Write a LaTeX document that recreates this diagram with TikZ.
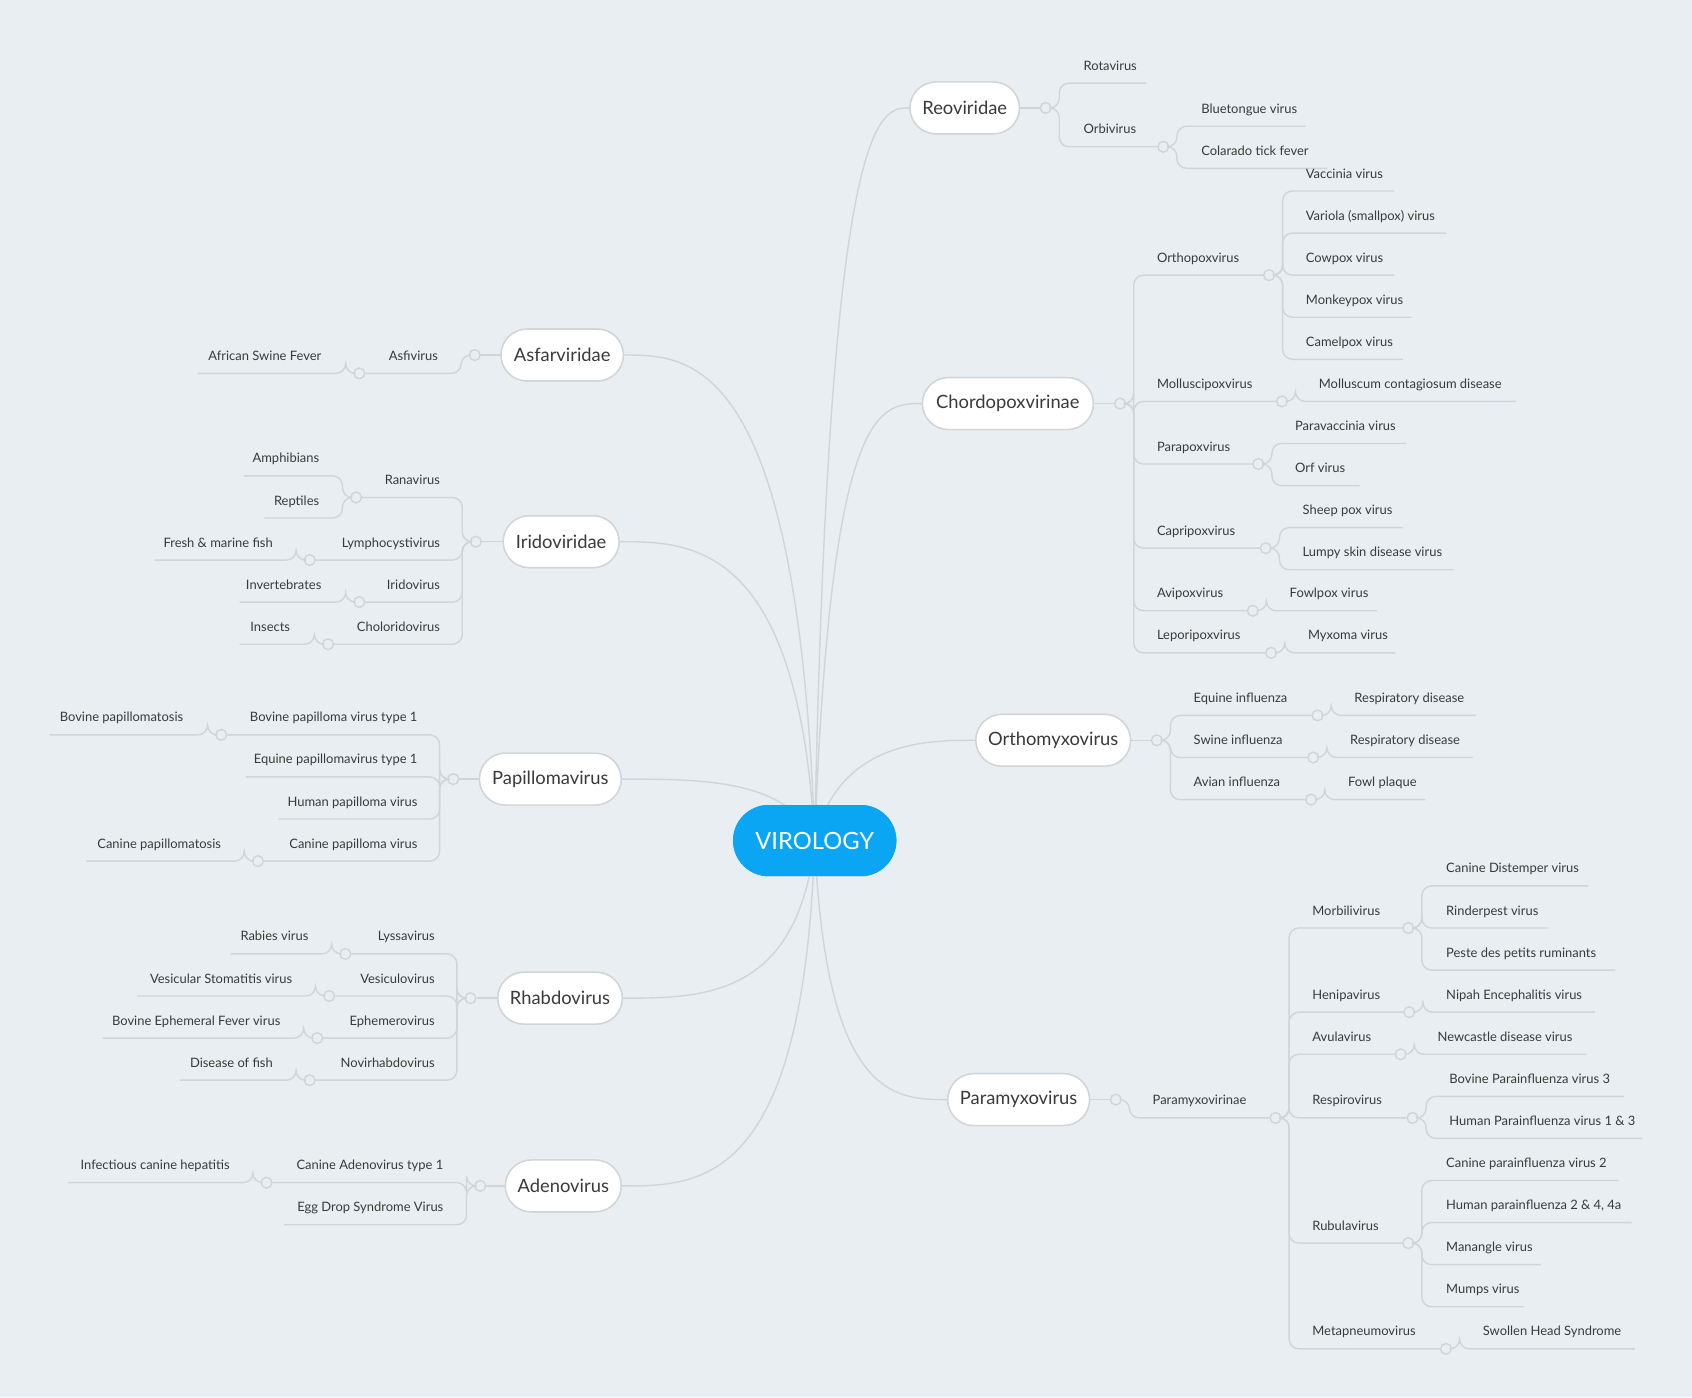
\documentclass[tikz,border=0pt]{standalone}
\usepackage{fontspec}
\setmainfont{Lato}
\usetikzlibrary{shapes.misc}
\definecolor{bg}{HTML}{E8EEF1}
\definecolor{lnc}{HTML}{CFD5D8}
\definecolor{txt}{HTML}{3A3A3A}
\definecolor{vir}{HTML}{0AA5F3}
\tikzset{
 ln/.style={draw=lnc,line width=1.3pt,rounded corners=9pt},
 mc/.style={draw=lnc,line width=1.3pt},
 lt/.style={inner sep=0pt,text=txt,font=\fontsize{12}{14}\selectfont},
 jc/.style={circle,draw=lnc,line width=1.3pt,fill=bg,minimum size=10pt,inner sep=0pt},
 mn/.style={rounded rectangle,draw=lnc,line width=1.3pt,fill=white,minimum height=48pt,text=txt,font=\fontsize{17}{20}\selectfont},
}
\newcommand\RL[6]{\draw[ln] (#1.east) -- ++(7,0) |- (#5); \node[lt,anchor=base west] (#2) at (#3,#4-12) {#6};}
\newcommand\LL[6]{\draw[ln] (#1.west) -- ++(-7,0) |- (#5); \node[lt,anchor=base east] (#2) at (#3,#4-12) {#6};}
\newcommand\JC[3]{\node[jc] (#1) at (#2,#3) {};}
\begin{document}
\begin{tikzpicture}[x=1pt,y=-1pt]
\fill[bg] (0,0) rectangle (1568,1295);
\useasboundingbox (0,0) rectangle (1568,1295);
% main nodes
\node[rounded rectangle,fill=vir,minimum width=158pt,minimum height=66pt,text=white,font=\fontsize{22}{26}\selectfont] (v) at (755,779) {VIROLOGY};
\node[mn,minimum width=108pt] (reo) at (894,100) {Reoviridae};
\node[mn,minimum width=165pt] (cho) at (934,374) {Chordopoxvirinae};
\node[mn,minimum width=150pt] (ort) at (976,686) {Orthomyxovirus};
\node[mn,minimum width=138pt] (par) at (944,1019) {Paramyxovirus};
\node[mn,minimum width=120pt] (asf) at (521,329) {Asfarviridae};
\node[mn,minimum width=114pt] (iri) at (520,502) {Iridoviridae};
\node[mn,minimum width=138pt] (pap) at (510,722) {Papillomavirus};
\node[mn,minimum width=122pt] (rha) at (519,925) {Rhabdovirus};
\node[mn,minimum width=114pt] (ade) at (522,1099) {Adenovirus};
\begin{scope}[on background layer/.style={}]
\end{scope}
% main curves (drawn, then central node redrawn on top)
\draw[mc] (v.center) .. controls (768,100) and (815,100) .. (reo.west);
\draw[mc] (v.center) .. controls (770,374) and (815,374) .. (cho.west);
\draw[mc] (v.center) .. controls (777,686) and (860,686) .. (ort.west);
\draw[mc] (v.center) .. controls (765,1019) and (830,1019) .. (par.west);
\draw[mc] (v.center) .. controls (740,329) and (640,329) .. (asf.east);
\draw[mc] (v.center) .. controls (740,502) and (640,502) .. (iri.east);
\draw[mc] (v.center) .. controls (730,722) and (650,722) .. (pap.east);
\draw[mc] (v.center) .. controls (740,925) and (650,925) .. (rha.east);
\draw[mc] (v.center) .. controls (745,1099) and (650,1099) .. (ade.east);
\node[rounded rectangle,fill=vir,minimum width=158pt,minimum height=66pt,text=white,font=\fontsize{22}{26}\selectfont] (v2) at (755,779) {VIROLOGY};
\foreach \n in {reo,cho,ort,par,asf,iri,pap,rha,ade}{\node[mn,fill=white,draw=none,inner sep=0pt] at (\n) {};}
\node[mn,minimum width=108pt] (reo) at (894,100) {Reoviridae};
\node[mn,minimum width=165pt] (cho) at (934,374) {Chordopoxvirinae};
\node[mn,minimum width=150pt] (ort) at (976,686) {Orthomyxovirus};
\node[mn,minimum width=138pt] (par) at (944,1019) {Paramyxovirus};
\node[mn,minimum width=120pt] (asf) at (521,329) {Asfarviridae};
\node[mn,minimum width=114pt] (iri) at (520,502) {Iridoviridae};
\node[mn,minimum width=138pt] (pap) at (510,722) {Papillomavirus};
\node[mn,minimum width=122pt] (rha) at (519,925) {Rhabdovirus};
\node[mn,minimum width=114pt] (ade) at (522,1099) {Adenovirus};
% junction circles
\JC{reoC}{969}{100}\JC{orbC}{1078}{136}
\JC{choC}{1038}{374}\JC{ortpC}{1176}{255}\JC{molC}{1188}{372}\JC{parpC}{1166}{430}\JC{capC}{1173}{508}\JC{aviC}{1161}{566}\JC{lepC}{1178}{605}
\JC{ortC}{1072}{686}\JC{eqC}{1221}{663}\JC{swC}{1217}{702}\JC{avC}{1215}{741}
\JC{parC}{1034}{1019}\JC{pviC}{1182}{1036}\JC{morC}{1305}{860}\JC{henC}{1306}{938}\JC{avuC}{1298}{977}\JC{resC}{1309}{1036}\JC{rubC}{1305}{1152}\JC{metC}{1340}{1250}
\JC{asfC}{440}{329}\JC{asfiC}{333}{346}
\JC{iriC}{441}{502}\JC{ranC}{330}{461}\JC{lymC}{287}{519}\JC{iridC}{333}{558}\JC{chlC}{304}{597}
\JC{papC}{420}{722}\JC{bpvC}{205}{681}\JC{cpvC}{239}{798}
\JC{rhaC}{436}{925}\JC{lysC}{320}{884}\JC{vesC}{305}{923}\JC{ephC}{294}{962}\JC{novC}{287}{1001}
\JC{adeC}{445}{1099}\JC{cadC}{247}{1096}
\foreach \a/\b in {reo/reoC,cho/choC,ort/ortC,par/parC}{\draw[mc] (\a.east) -- (\b.west);}
\foreach \a/\b in {asf/asfC,iri/iriC,pap/papC,rha/rhaC,ade/adeC}{\draw[mc] (\a.west) -- (\b.east);}
% Reoviridae
\RL{reoC}{rota}{1004}{77}{1062,77}{Rotavirus}
\RL{reoC}{orb}{1004}{136}{orbC.west}{Orbivirus}
\RL{orbC}{blu}{1113}{117}{1210,117}{Bluetongue virus}
\RL{orbC}{col}{1113}{156}{1230,156}{Colarado tick fever}
% Chordopoxvirinae
\RL{choC}{ortp}{1072}{255}{ortpC.west}{Orthopoxvirus}
\RL{ortpC}{vac}{1210}{177}{1292,177}{Vaccinia virus}
\RL{ortpC}{var}{1210}{216}{1340,216}{Variola (smallpox) virus}
\RL{ortpC}{cow}{1210}{255}{1292,255}{Cowpox virus}
\RL{ortpC}{mon}{1210}{294}{1308,294}{Monkeypox virus}
\RL{ortpC}{cam}{1210}{333}{1300,333}{Camelpox virus}
\RL{choC}{mol}{1072}{372}{molC.west}{Molluscipoxvirus}
\RL{molC}{molc}{1222}{372}{1405,372}{Molluscum contagiosum disease}
\RL{choC}{parp}{1072}{430}{parpC.west}{Parapoxvirus}
\RL{parpC}{pvac}{1200}{411}{1303,411}{Paravaccinia virus}
\RL{parpC}{orf}{1200}{450}{1260,450}{Orf virus}
\RL{choC}{cap}{1072}{508}{capC.west}{Capripoxvirus}
\RL{capC}{shp}{1207}{489}{1300,489}{Sheep pox virus}
\RL{capC}{lum}{1207}{528}{1347,528}{Lumpy skin disease virus}
\RL{choC}{avi}{1072}{566}{aviC.west}{Avipoxvirus}
\RL{aviC}{fow}{1195}{566}{1276,566}{Fowlpox virus}
\RL{choC}{lep}{1072}{605}{lepC.west}{Leporipoxvirus}
\RL{lepC}{myx}{1212}{605}{1293,605}{Myxoma virus}
% Orthomyxovirus
\RL{ortC}{eq}{1106}{663}{eqC.west}{Equine influenza}
\RL{eqC}{rd1}{1255}{663}{1368,663}{Respiratory disease}
\RL{ortC}{sw}{1106}{702}{swC.west}{Swine influenza}
\RL{swC}{rd2}{1251}{702}{1365,702}{Respiratory disease}
\RL{ortC}{av}{1106}{741}{avC.west}{Avian influenza}
\RL{avC}{fpl}{1249}{741}{1321,741}{Fowl plaque}
% Paramyxovirus
\RL{parC}{pvi}{1068}{1036}{pviC.west}{Paramyxovirinae}
\RL{pviC}{mor}{1216}{860}{morC.west}{Morbilivirus}
\RL{morC}{cdv}{1340}{821}{1472,821}{Canine Distemper virus}
\RL{morC}{rin}{1340}{860}{1435,860}{Rinderpest virus}
\RL{morC}{ppr}{1340}{899}{1497,899}{Peste des petits ruminants}
\RL{pviC}{hen}{1216}{938}{henC.west}{Henipavirus}
\RL{henC}{nip}{1340}{938}{1478,938}{Nipah Encephalitis virus}
\RL{pviC}{avu}{1216}{977}{avuC.west}{Avulavirus}
\RL{avuC}{new}{1332}{977}{1470,977}{Newcastle disease virus}
\RL{pviC}{res}{1216}{1036}{resC.west}{Respirovirus}
\RL{resC}{bpi}{1343}{1016}{1505,1016}{Bovine Parainfluenza virus 3}
\RL{resC}{hpi}{1343}{1055}{1522,1055}{Human Parainfluenza virus 1 \& 3}
\RL{pviC}{rub}{1216}{1152}{rubC.west}{Rubulavirus}
\RL{rubC}{cpi}{1340}{1094}{1500,1094}{Canine parainfluenza virus 2}
\RL{rubC}{hpa}{1340}{1133}{1512,1133}{Human parainfluenza 2 \& 4, 4a}
\RL{rubC}{man}{1340}{1172}{1428,1172}{Manangle virus}
\RL{rubC}{mum}{1340}{1211}{1412,1211}{Mumps virus}
\RL{pviC}{met}{1216}{1250}{metC.west}{Metapneumovirus}
\RL{metC}{shs}{1374}{1250}{1515,1250}{Swollen Head Syndrome}
% Asfarviridae
\LL{asfC}{asfi}{406}{346}{asfiC.east}{Asfivirus}
\LL{asfiC}{asw}{298}{346}{183,346}{African Swine Fever}
% Iridoviridae
\LL{iriC}{ran}{408}{461}{ranC.east}{Ranavirus}
\LL{ranC}{amp}{296}{441}{226,441}{Amphibians}
\LL{ranC}{rep}{296}{480}{245,480}{Reptiles}
\LL{iriC}{lym}{408}{519}{lymC.east}{Lymphocystivirus}
\LL{lymC}{fmf}{253}{519}{143,519}{Fresh \& marine fish}
\LL{iriC}{irid}{408}{558}{iridC.east}{Iridovirus}
\LL{iridC}{inv}{298}{558}{222,558}{Invertebrates}
\LL{iriC}{chl}{408}{597}{chlC.east}{Choloridovirus}
\LL{chlC}{ins}{269}{597}{222,597}{Insects}
% Papillomavirus
\LL{papC}{bpv}{387}{681}{bpvC.east}{Bovine papilloma virus type 1}
\LL{bpvC}{bpm}{170}{681}{46,681}{Bovine papillomatosis}
\LL{papC}{epv}{387}{720}{228,720}{Equine papillomavirus type 1}
\LL{papC}{hpv}{387}{759}{258,759}{Human papilloma virus}
\LL{papC}{cpv}{387}{798}{cpvC.east}{Canine papilloma virus}
\LL{cpvC}{cpm}{205}{798}{80,798}{Canine papillomatosis}
% Rhabdovirus
\LL{rhaC}{lys}{403}{884}{lysC.east}{Lyssavirus}
\LL{lysC}{rab}{286}{884}{214,884}{Rabies virus}
\LL{rhaC}{ves}{403}{923}{vesC.east}{Vesiculovirus}
\LL{vesC}{vsv}{271}{923}{127,923}{Vesicular Stomatitis virus}
\LL{rhaC}{eph}{403}{962}{ephC.east}{Ephemerovirus}
\LL{ephC}{bef}{260}{962}{95,962}{Bovine Ephemeral Fever virus}
\LL{rhaC}{nov}{403}{1001}{novC.east}{Novirhabdovirus}
\LL{novC}{dof}{253}{1001}{167,1001}{Disease of fish}
% Adenovirus
\LL{adeC}{cad}{411}{1096}{cadC.east}{Canine Adenovirus type 1}
\LL{cadC}{ich}{213}{1096}{63,1096}{Infectious canine hepatitis}
\LL{adeC}{eds}{411}{1135}{263,1135}{Egg Drop Syndrome Virus}
\end{tikzpicture}
\end{document}
